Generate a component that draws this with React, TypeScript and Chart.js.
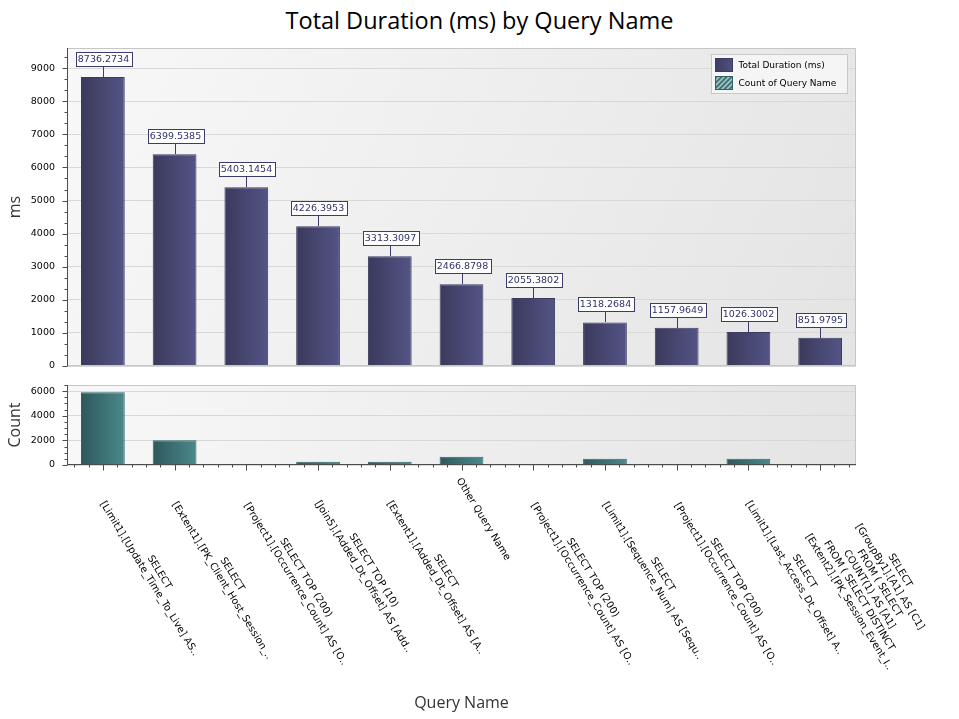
import { useEffect, useRef } from 'react'
import { Chart, BarController, BarElement, LinearScale, CategoryScale } from 'chart.js'

Chart.register(BarController, BarElement, LinearScale, CategoryScale)

// each query name is shown on several lines, as in the source report
const QUERY_NAMES: string[][] = [
  ['SELECT', '[Limit1].[Update_Time_To_Live] AS..'],
  ['SELECT', '[Extent1].[PK_Client_Host_Session_..'],
  ['SELECT TOP (200)', '[Project1].[Occurrence_Count] AS [O..'],
  ['SELECT TOP (10)', '[Join5].[Added_Dt_Offset] AS [Add..'],
  ['SELECT', '[Extent1].[Added_Dt_Offset] AS [A..'],
  ['Other Query Name'],
  ['SELECT TOP (200)', '[Project1].[Occurrence_Count] AS [O..'],
  ['SELECT', '[Limit1].[Sequence_Num] AS [Sequ..'],
  ['SELECT TOP (200)', '[Project1].[Occurrence_Count] AS [O..'],
  ['SELECT', '[Limit1].[Last_Access_Dt_Offset] A..'],
  ['SELECT', '[GroupBy1].[A1] AS [C1]', 'FROM ( SELECT', 'COUNT(1) AS [A1]', 'FROM ( SELECT DISTINCT', '[Extent2].[PK_Session_Event_I..'],
]

const TOTAL_DURATION_MS = [8736.2734, 6399.5385, 5403.1454, 4226.3953, 3313.3097, 2466.8798, 2055.3802, 1318.2684, 1157.9649, 1026.3002, 851.9795]
const QUERY_COUNT = [5920, 2020, 10, 265, 255, 670, 9, 505, 8, 500, 6]

const SERIES_NAMES = ['Total Duration (ms)', 'Count of Query Name']
const DURATION_MAX = 9610
const COUNT_MAX = 6500
const DURATION_TICKS = [0, 1000, 2000, 3000, 4000, 5000, 6000, 7000, 8000, 9000]
const COUNT_GRID = [0, 1000, 2000, 3000, 4000, 5000, 6000]
const COUNT_LABELED = [0, 2000, 4000, 6000]

const BAR_PCT = 0.61
const LABEL_ANGLE = (58.5 * Math.PI) / 180
const LABEL_LINE = 12
const SMALL_FONT = '"DejaVu Sans", sans-serif'
const TITLE_FONT = '"Open Sans", "Noto Sans", sans-serif'

function barFill(from: string, to: string) {
  return (c: any) => {
    const chart = c.chart
    const a = chart.chartArea
    if (c.type !== 'data' || !a) return from
    const x = chart.scales.x.getPixelForValue(c.dataIndex)
    const half = ((a.right - a.left) / QUERY_NAMES.length) * BAR_PCT / 2
    const g = chart.ctx.createLinearGradient(x - half, 0, x + half, 0)
    g.addColorStop(0, from)
    g.addColorStop(1, to)
    return g
  }
}

const plotBackground = {
  id: 'plotBackground',
  beforeDraw(chart: any) {
    const { ctx, chartArea: a } = chart
    const g = ctx.createLinearGradient(a.left, a.top, a.right, a.bottom)
    g.addColorStop(0, '#f8f8f8')
    g.addColorStop(1, '#e4e4e4')
    ctx.save()
    ctx.fillStyle = g
    ctx.fillRect(a.left, a.top, a.right - a.left, a.bottom - a.top)
    ctx.restore()
  },
}

// frame, axis lines and major/minor tick marks
const paneFrame = {
  id: 'paneFrame',
  afterDatasetsDraw(chart: any, _args: any, opts: any) {
    const { ctx, chartArea: a } = chart
    const L = Math.round(a.left) + 0.5
    const R = Math.round(a.right) - 0.5
    const T = Math.round(a.top) + 0.5
    const B = Math.round(a.bottom) - 0.5
    const seg = (x1: number, y1: number, x2: number, y2: number) => {
      ctx.beginPath()
      ctx.moveTo(x1, y1)
      ctx.lineTo(x2, y2)
      ctx.stroke()
    }
    ctx.save()
    ctx.lineWidth = 1
    ctx.strokeStyle = '#c6c6c6'
    seg(L, T, R, T)
    seg(R, T, R, B)
    if (!opts.xAxis) seg(L, B, R, B)

    ctx.strokeStyle = '#4c4c4c'
    seg(L, T - 0.5, L, B + 0.5)
    const ys = chart.scales.y
    const minor = opts.minorStep
    for (let k = 0; k * minor <= ys.max + 1e-6; k++) {
      const v = k * minor
      const y = Math.round(ys.getPixelForValue(v)) + 0.5
      const major = Math.abs(v / opts.majorStep - Math.round(v / opts.majorStep)) < 1e-6
      seg(L - (major ? 5 : 3), y, L, y)
    }
    if (opts.xAxis) {
      seg(L, B, R + 0.5, B)
      const xs = chart.scales.x
      const w = (a.right - a.left) / QUERY_NAMES.length
      QUERY_NAMES.forEach((_n, i) => {
        const c = xs.getPixelForValue(i)
        for (let k = -2; k <= 2; k++) {
          const x = Math.round(c + (k * w) / 5) + 0.5
          seg(x, B, x, B + (k === 0 ? 6 : 3))
        }
      })
    }
    ctx.restore()
  },
}

const valueLabels = {
  id: 'valueLabels',
  afterDatasetsDraw(chart: any) {
    const { ctx } = chart
    const meta = chart.getDatasetMeta(0)
    ctx.save()
    ctx.font = `9.5px ${SMALL_FONT}`
    ctx.textAlign = 'center'
    ctx.textBaseline = 'middle'
    ctx.lineWidth = 1
    meta.data.forEach((bar: any, i: number) => {
      const text = TOTAL_DURATION_MS[i].toFixed(4)
      const tw = ctx.measureText(text).width
      const x = Math.round(bar.x) + 0.5
      const top = Math.round(bar.y)
      const bw = Math.round(tw + 5)
      const bh = 14
      const bottom = top - 11
      ctx.strokeStyle = '#3c3c6c'
      ctx.beginPath()
      ctx.moveTo(x, top)
      ctx.lineTo(x, bottom)
      ctx.stroke()
      const bx = Math.round(x - bw / 2) + 0.5
      const by = bottom - bh + 0.5
      ctx.fillStyle = '#ffffff'
      ctx.fillRect(bx, by, bw, bh)
      ctx.strokeRect(bx, by, bw, bh)
      ctx.fillStyle = '#32326c'
      ctx.fillText(text, x, by + bh / 2 + 0.5)
    })
    ctx.restore()
  },
}

const legendBox = {
  id: 'legendBox',
  afterDraw(chart: any) {
    const { ctx, chartArea: a } = chart
    const w = 136
    const h = 39
    const x = Math.round(a.right) - 9 - w + 0.5
    const y = Math.round(a.top) + 6 + 0.5
    ctx.save()
    ctx.fillStyle = '#f5f5f5'
    ctx.fillRect(x, y, w, h)
    ctx.strokeStyle = '#c8c8c8'
    ctx.strokeRect(x, y, w, h)

    // navy swatch
    const sx = x + 4
    const s1 = y + 4
    const g = ctx.createLinearGradient(sx, 0, sx + 17, 0)
    g.addColorStop(0, '#3d3d66')
    g.addColorStop(1, '#50507e')
    ctx.fillStyle = g
    ctx.fillRect(sx, s1, 17, 13)
    ctx.strokeStyle = '#3a3a62'
    ctx.strokeRect(sx, s1, 17, 13)

    // hatched teal swatch
    const s2 = s1 + 18
    ctx.fillStyle = '#3f7476'
    ctx.fillRect(sx, s2, 17, 13)
    ctx.save()
    ctx.beginPath()
    ctx.rect(sx, s2, 17, 13)
    ctx.clip()
    ctx.strokeStyle = '#a6c4c5'
    ctx.lineWidth = 1.6
    for (let d = -14; d < 32; d += 5) {
      ctx.beginPath()
      ctx.moveTo(sx + d, s2 + 13)
      ctx.lineTo(sx + d + 13, s2)
      ctx.stroke()
    }
    ctx.restore()
    ctx.strokeStyle = '#2f6062'
    ctx.strokeRect(sx, s2, 17, 13)

    ctx.fillStyle = '#000'
    ctx.font = `9px ${SMALL_FONT}`
    ctx.textBaseline = 'middle'
    ctx.textAlign = 'left'
    ctx.fillText(SERIES_NAMES[0], sx + 23, s1 + 7)
    ctx.fillText(SERIES_NAMES[1], sx + 23, s2 + 7)
    ctx.restore()
  },
}

// rotated, multi-line category labels under the lower pane
const queryLabels = {
  id: 'queryLabels',
  afterDraw(chart: any) {
    const { ctx, chartArea: a } = chart
    const xs = chart.scales.x
    ctx.save()
    ctx.font = `10px ${SMALL_FONT}`
    ctx.fillStyle = '#000'
    ctx.textAlign = 'center'
    ctx.textBaseline = 'middle'
    QUERY_NAMES.forEach((lines, i) => {
      const tick = xs.getPixelForValue(i)
      const w = Math.max(...lines.map((l) => ctx.measureText(l).width))
      const h = lines.length * LABEL_LINE
      const ax = tick - 10.9 + 0.206 * h + 0.058 * w
      const ay = a.bottom - 7.7 + 0.495 * h + 0.1666 * w
      ctx.save()
      ctx.translate(ax, ay)
      ctx.rotate(LABEL_ANGLE)
      lines.forEach((line, j) => ctx.fillText(line, w / 2, -h / 2 + LABEL_LINE * (j + 0.5)))
      ctx.restore()
    })
    ctx.restore()
  },
}

const axisTitle = (text: string, top: number, bottom: number) => ({
  display: true,
  text,
  color: '#333',
  font: { family: TITLE_FONT, size: 16 },
  padding: { top, bottom },
})

const valueScale = (max: number, ticks: number[], labeled: number[], title: string) => ({
  min: 0,
  max,
  afterFit: (s: any) => { s.width = 67 },
  afterBuildTicks: (s: any) => { s.ticks = ticks.map((value) => ({ value })) },
  border: { display: false },
  grid: { color: '#d8d8d8', drawTicks: true, tickLength: 10, tickColor: 'rgba(0,0,0,0)' },
  ticks: {
    padding: 2,
    color: '#000',
    font: { family: SMALL_FONT, size: 9.5 },
    callback: (v: any) => (labeled.includes(Number(v)) ? String(v) : ''),
  },
  title: axisTitle(title, 6, 0),
})

function DurationPane() {
  const canvasRef = useRef<HTMLCanvasElement>(null)
  useEffect(() => {
    if (!canvasRef.current) return
    const chart = new Chart(canvasRef.current, {
      type: 'bar',
      data: {
        labels: QUERY_NAMES,
        datasets: [
          {
            label: SERIES_NAMES[0],
            data: TOTAL_DURATION_MS,
            backgroundColor: barFill('#3a3a5c', '#545486'),
            borderColor: '#3a3a62',
            borderWidth: 1,
            barPercentage: BAR_PCT,
            categoryPercentage: 1,
          },
        ],
      },
      options: {
        animation: false,
        responsive: true,
        maintainAspectRatio: false,
        events: [],
        layout: { padding: { left: 0, right: 103, top: 48, bottom: 14 } },
        plugins: {
          legend: { display: false },
          tooltip: { enabled: false },
          // @ts-ignore
          paneFrame: { minorStep: 1000 / 3, majorStep: 1000, xAxis: false },
        },
        scales: {
          x: { display: false, offset: true, grid: { display: false } },
          // @ts-ignore
          y: valueScale(DURATION_MAX, DURATION_TICKS, DURATION_TICKS, 'ms'),
        },
      },
      plugins: [plotBackground, paneFrame, valueLabels, legendBox],
    })
    return () => chart.destroy()
  }, [])
  return (
    <div style={{ position: 'absolute', left: 0, top: 0, width: 959, height: 380 }}>
      <canvas ref={canvasRef} />
    </div>
  )
}

function CountPane() {
  const canvasRef = useRef<HTMLCanvasElement>(null)
  useEffect(() => {
    if (!canvasRef.current) return
    const chart = new Chart(canvasRef.current, {
      type: 'bar',
      data: {
        labels: QUERY_NAMES,
        datasets: [
          {
            label: SERIES_NAMES[1],
            data: QUERY_COUNT,
            backgroundColor: barFill('#2e585c', '#4a898b'),
            borderColor: '#2e6466',
            borderWidth: 1,
            barPercentage: BAR_PCT,
            categoryPercentage: 1,
          },
        ],
      },
      options: {
        animation: false,
        responsive: true,
        maintainAspectRatio: false,
        events: [],
        layout: { padding: { left: 0, right: 103, top: 9, bottom: 0 } },
        plugins: {
          legend: { display: false },
          tooltip: { enabled: false },
          // @ts-ignore
          paneFrame: { minorStep: 500, majorStep: 2000, xAxis: true },
        },
        scales: {
          x: {
            display: true,
            offset: true,
            grid: { display: false },
            border: { display: false },
            ticks: { display: false },
            afterFit: (s: any) => { s.height = 254 },
            title: axisTitle('Query Name', 0, 6),
          },
          // @ts-ignore
          y: valueScale(COUNT_MAX, COUNT_GRID, COUNT_LABELED, 'Count'),
        },
      },
      plugins: [plotBackground, paneFrame, queryLabels],
    })
    return () => chart.destroy()
  }, [])
  return (
    <div style={{ position: 'absolute', left: 0, top: 376, width: 959, height: 343 }}>
      <canvas ref={canvasRef} />
    </div>
  )
}

export default function App() {
  return (
    <div style={{ position: 'absolute', left: 0, top: 0, width: 959, height: 719, background: '#fff', overflow: 'hidden' }}>
      <div
        style={{
          position: 'absolute',
          left: 0,
          top: 4,
          width: 959,
          textAlign: 'center',
          fontFamily: TITLE_FONT,
          fontSize: 23.5,
          lineHeight: '32px',
          color: '#000',
        }}
      >
        Total Duration (ms) by Query Name
      </div>
      <DurationPane />
      <CountPane />
    </div>
  )
}
